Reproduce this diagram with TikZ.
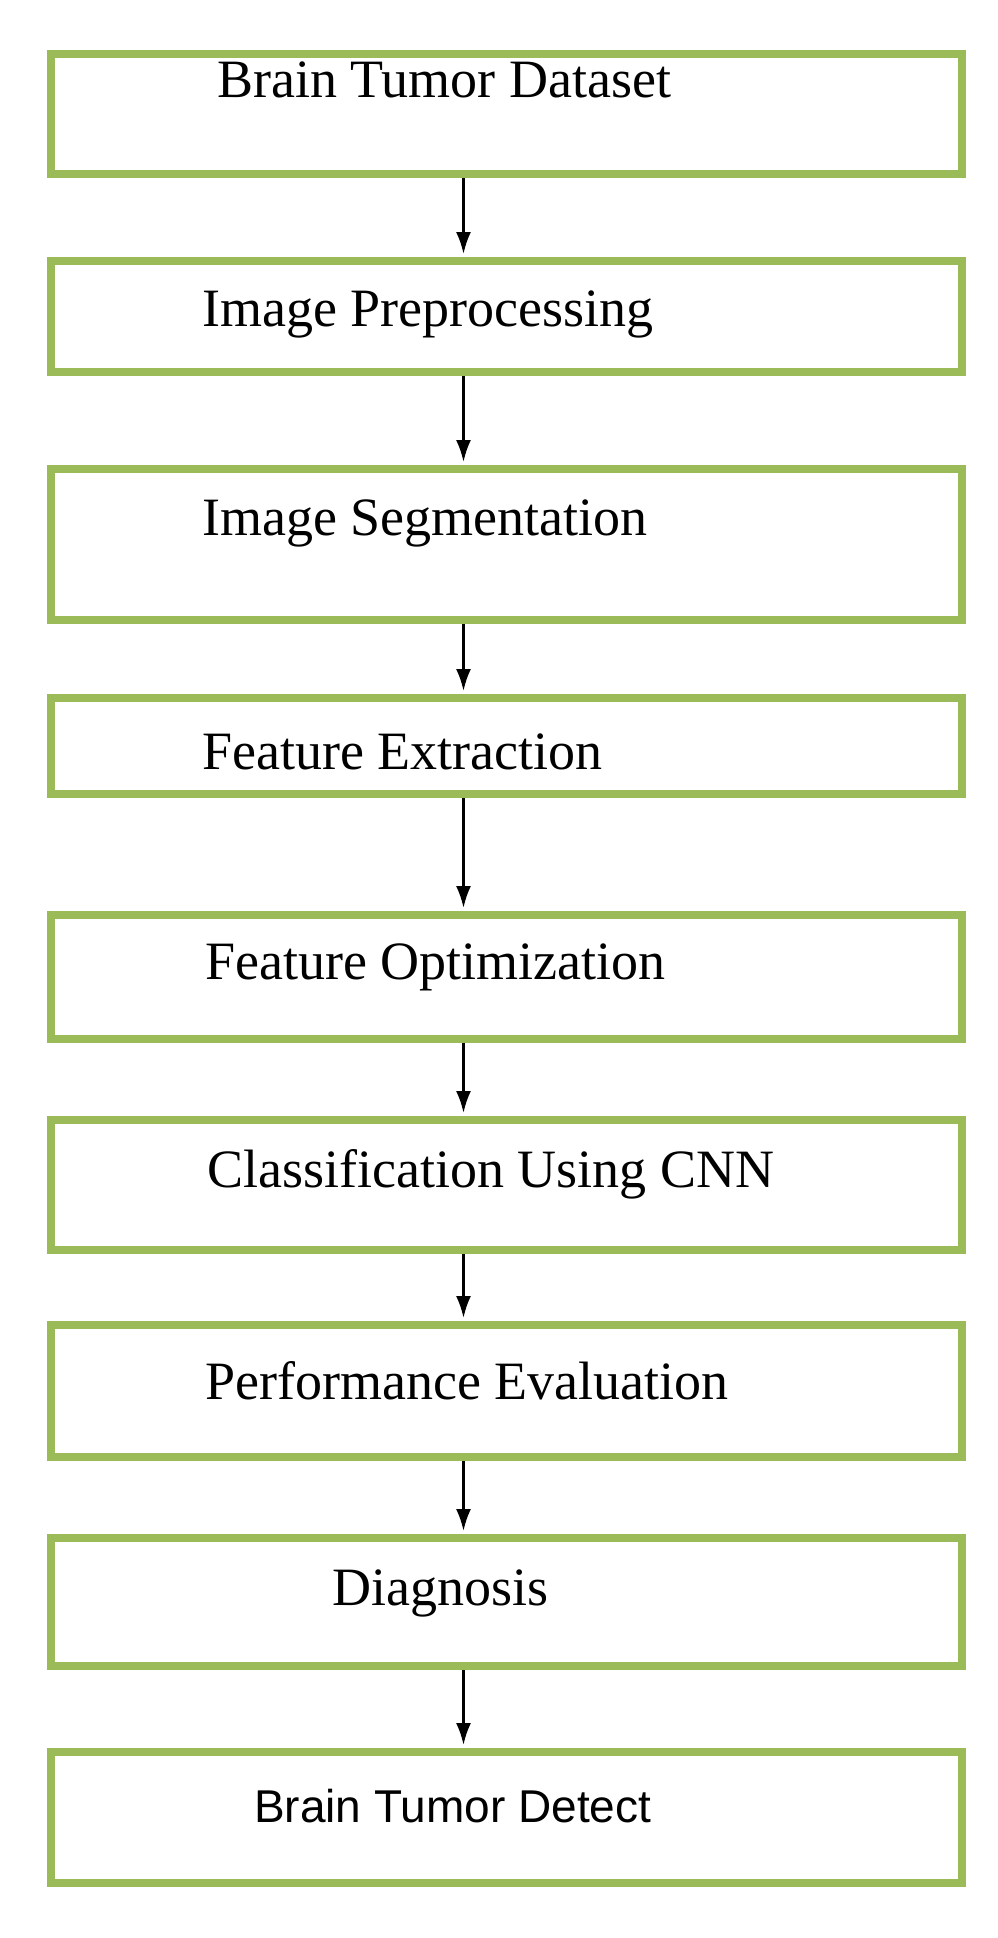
\documentclass[tikz,border=0pt]{standalone}
\usepackage{fontspec}
\usetikzlibrary{arrows.meta}
\setmainfont{Liberation Serif}
\newfontfamily\lblsans{Liberation Sans}
\definecolor{boxgreen}{RGB}{155,187,89}
\tikzset{
  stage/.style={draw=boxgreen, line width=8pt, fill=white, anchor=north west, inner sep=0pt},
  lbl/.style={anchor=west, inner sep=0pt, font=\fontsize{54}{58}\selectfont},
  flow/.style={-{Latex[length=22pt,width=15pt]}, line width=2.5pt, shorten >=3pt}
}
\begin{document}
\begin{tikzpicture}[x=1pt,y=1pt,yscale=-1]
\useasboundingbox (0,0) rectangle (998,1938);

% boxes
\node[stage, minimum width=911pt, minimum height=120pt] (dataset) at (47,50) {};
\node[stage, minimum width=911pt, minimum height=111pt] (prep) at (47,257) {};
\node[stage, minimum width=911pt, minimum height=151pt] (seg) at (47,465) {};
\node[stage, minimum width=911pt, minimum height=96pt] (feat) at (47,694) {};
\node[stage, minimum width=911pt, minimum height=124pt] (opt) at (47,911) {};
\node[stage, minimum width=911pt, minimum height=130pt] (cnn) at (47,1116) {};
\node[stage, minimum width=911pt, minimum height=132pt] (perf) at (47,1321) {};
\node[stage, minimum width=911pt, minimum height=128pt] (diag) at (47,1534) {};
\node[stage, minimum width=911pt, minimum height=131pt] (detect) at (47,1748) {};

% labels
\node[lbl] (tDataset) at (217,80) {Brain Tumor Dataset};
\node[lbl] (tPrep) at (202,314) {Image Preprocessing};
\node[lbl] (tSeg) at (202,523) {Image Segmentation};
\node[lbl] (tFeat) at (202,752) {Feature Extraction};
\node[lbl] (tOpt) at (205,967) {Feature Optimization};
\node[lbl] (tCnn) at (207,1174) {Classification Using CNN};
\node[lbl] (tPerf) at (205,1381) {Performance Evaluation};
\node[lbl] (tDiag) at (332,1593) {Diagnosis};
\node[lbl, font=\lblsans\fontsize{46}{50}\selectfont] (tDetect) at (254,1806) {Brain Tumor Detect};

% arrows
\foreach \a/\b in {dataset/prep, prep/seg, seg/feat, feat/opt, opt/cnn, cnn/perf, perf/diag, diag/detect}
  \draw[flow] ([xshift=-43pt]\a.south) -- ([xshift=-43pt]\b.north);
\end{tikzpicture}
\end{document}
